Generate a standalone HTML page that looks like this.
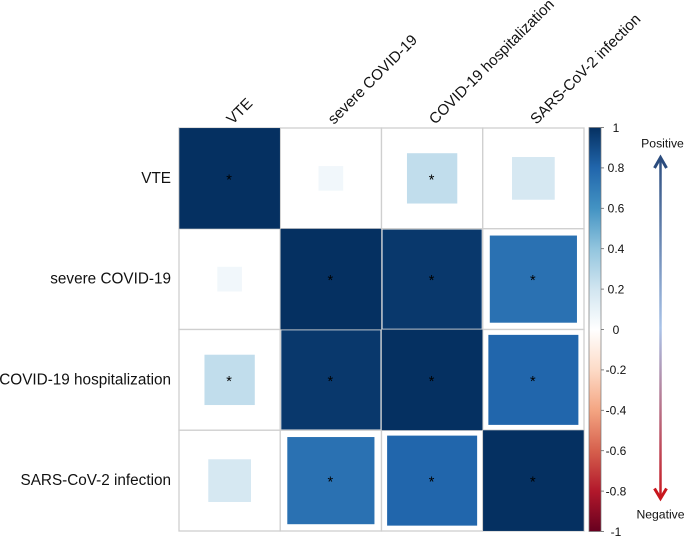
<!DOCTYPE html>
<html lang="en">
<head>
<meta charset="utf-8">
<title>Correlation matrix</title>
<style>
html,body{margin:0;padding:0;background:#fff;width:685px;height:536px;overflow:hidden}
svg{display:block;font-family:"Liberation Sans",Arial,sans-serif}
</style>
</head>
<body>
<svg id="chart" xmlns="http://www.w3.org/2000/svg" width="685" height="536" viewBox="0 0 685 536">
  <defs>
    <linearGradient id="arrow-gradient" gradientUnits="userSpaceOnUse" x1="0" y1="156" x2="0" y2="500">
      <stop offset="0" stop-color="#2b4c7e"/>
      <stop offset="0.5" stop-color="#a9c3e8"/>
      <stop offset="1" stop-color="#c8161d"/>
    </linearGradient>
    <linearGradient id="colorbar-gradient" x1="0" y1="0" x2="0" y2="1"></linearGradient>
  </defs>
  <rect x="0" y="0" width="685" height="536" fill="#fff"/>
  <g id="cells"></g>
  <g id="row-labels"></g>
  <g id="col-labels"></g>
  <g id="legend"></g>
  <g>
    <line x1="660.5" y1="158" x2="660.5" y2="498" stroke="url(#arrow-gradient)" stroke-width="2.5"/>
    <path d="M654.5 168 L660.5 157.5 L666.5 168" fill="none" stroke="#2b4c7e" stroke-width="3"/>
    <path d="M654.5 488.5 L660.5 498.5 L666.5 488.5" fill="none" stroke="#c8161d" stroke-width="3"/>
    <text x="662.5" y="147.5" font-size="12.2" text-anchor="middle" fill="#111">Positive</text>
    <text x="660.5" y="518.5" font-size="12.2" text-anchor="middle" fill="#111">Negative</text>
  </g>
</svg>
<script>
var categories = ["VTE", "severe COVID-19", "COVID-19 hospitalization", "SARS-CoV-2 infection"];
var rowVTE = [1, 0.06, 0.25, 0.18];
var rowSevere = [0.06, 1, 0.97, 0.75];
var rowHospital = [0.25, 0.97, 1, 0.8];
var rowSars = [0.18, 0.75, 0.8, 1];
var significantVTE = [1, 0, 1, 0];
var significantSevere = [0, 1, 1, 1];
var significantHospital = [1, 1, 1, 1];
var significantSars = [0, 1, 1, 1];
var legendTicks = [1, 0.8, 0.6, 0.4, 0.2, 0, -0.2, -0.4, -0.6, -0.8, -1];
var paletteColors = ["#67001F", "#B2182B", "#D6604D", "#F4A582", "#FDDBC7", "#FFFFFF", "#D1E5F0", "#92C5DE", "#4393C3", "#2166AC", "#053061"];

var NS = "http://www.w3.org/2000/svg";
var matrix = [rowVTE, rowSevere, rowHospital, rowSars];
var significant = [significantVTE, significantSevere, significantHospital, significantSars];
var plot = {left: 179, right: 584, top: 128, bottom: 531};
var bar = {left: 589, right: 601, top: 127.5, bottom: 531.5};

function make(tag, attrs, parent) {
  var el = document.createElementNS(NS, tag);
  for (var key in attrs) { el.setAttribute(key, attrs[key]); }
  parent.appendChild(el);
  return el;
}
function xCell(i) { return plot.left + (plot.right - plot.left) * i / categories.length; }
function yCell(i) { return plot.top + (plot.bottom - plot.top) * i / categories.length; }
function yBar(v) { return bar.bottom - (v + 1) / 2 * (bar.bottom - bar.top); }
function hexToRgb(h) { return [parseInt(h.substr(1, 2), 16), parseInt(h.substr(3, 2), 16), parseInt(h.substr(5, 2), 16)]; }
function color(v) {
  var t = (Math.max(-1, Math.min(1, v)) + 1) / 2 * (paletteColors.length - 1);
  var i = Math.min(paletteColors.length - 2, Math.floor(t));
  var f = t - i;
  var a = hexToRgb(paletteColors[i]);
  var b = hexToRgb(paletteColors[i + 1]);
  return "rgb(" + Math.round(a[0] + (b[0] - a[0]) * f) + "," + Math.round(a[1] + (b[1] - a[1]) * f) + "," + Math.round(a[2] + (b[2] - a[2]) * f) + ")";
}

var cells = document.getElementById("cells");
var rowLabels = document.getElementById("row-labels");
var colLabels = document.getElementById("col-labels");
var legend = document.getElementById("legend");

categories.forEach(function (name, r) {
  categories.forEach(function (other, c) {
    var x0 = xCell(c), x1 = xCell(c + 1), y0 = yCell(r), y1 = yCell(r + 1);
    var gridCell = make("rect", {x: x0, y: y0, width: x1 - x0, height: y1 - y0, fill: "#fff", stroke: "#cfcfcf", "stroke-width": 1.3}, cells);
    
    
  });
});

categories.forEach(function (name, r) {
  categories.forEach(function (other, c) {
    var v = matrix[r][c];
    var x0 = xCell(c), x1 = xCell(c + 1), y0 = yCell(r), y1 = yCell(r + 1);
    var side = Math.sqrt(Math.abs(v)) * (x1 - x0 - 0.6);
    var cx = (x0 + x1) / 2, cy = (y0 + y1) / 2;
    var cell = make("rect", {x: cx - side / 2, y: cy - side / 2, width: side, height: side, fill: color(v)}, cells);
    
    
    if (significant[r][c]) {
      var star = make("text", {x: cx - 0.5, y: cy + 6, "font-size": 14.5, "text-anchor": "middle", fill: "#000"}, cells);
      
      
      star.textContent = "*";
    }
  });
});

categories.forEach(function (name, i) {
  var rowLabel = make("text", {x: 171, y: (yCell(i) + yCell(i + 1)) / 2 + 4.5, "font-size": 15.3, "text-anchor": "end", fill: "#111"}, rowLabels);
  
  
  rowLabel.textContent = name;
  var lx = (xCell(i) + xCell(i + 1)) / 2 + 3;
  var colLabel = make("text", {x: lx, y: 125, "font-size": 15.1, transform: "rotate(-45 " + lx + " 125)", fill: "#111"}, colLabels);
  
  
  colLabel.textContent = name;
});

var gradient = document.getElementById("colorbar-gradient");
paletteColors.slice().reverse().forEach(function (col, i) {
  make("stop", {offset: i / (paletteColors.length - 1), "stop-color": col}, gradient);
});
var colorbar = make("rect", {x: bar.left, y: bar.top, width: bar.right - bar.left, height: bar.bottom - bar.top, fill: "url(#colorbar-gradient)", stroke: "#777", "stroke-width": 0.7}, legend);



legendTicks.forEach(function (v) {
  var tick = make("line", {x1: bar.right, x2: bar.right + 3, y1: yBar(v), y2: yBar(v), stroke: "#666", "stroke-width": 0.8}, legend);
  
  
  var label = make("text", {x: 616, y: yBar(v) + 4.3, "font-size": 12, "text-anchor": "middle", fill: "#111"}, legend);
  
  
  label.textContent = String(v);
});
</script>
</body>
</html>
